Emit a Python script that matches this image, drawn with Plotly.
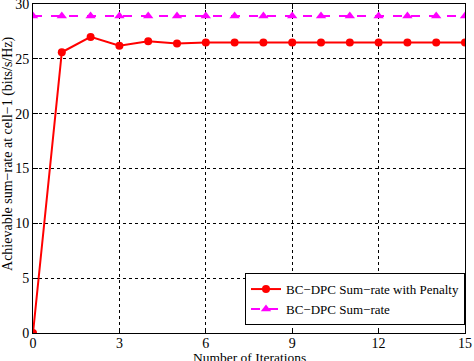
import plotly.graph_objects as go

iterations = list(range(16))
penalty_rate = [0, 25.6, 27.0, 26.2, 26.6, 26.4, 26.5, 26.5, 26.5, 26.5, 26.5, 26.5, 26.5, 26.5, 26.5, 26.5]
sum_rate = [28.9] * 16
x_ticks = [0, 3, 6, 9, 12, 15]
y_ticks = [0, 5, 10, 15, 20, 25, 30]

font = "Liberation Serif, Times New Roman, serif"

fig = go.Figure()
fig.add_trace(go.Scatter(
    x=iterations, y=penalty_rate, mode="lines+markers",
    name="BC\u2212DPC Sum\u2212rate with Penalty",
    line=dict(color="#ff0000", width=2),
    marker=dict(symbol="circle", size=8, color="#ff0000"),
))
fig.add_trace(go.Scatter(
    x=iterations, y=sum_rate, mode="lines+markers",
    name="BC\u2212DPC Sum\u2212rate",
    line=dict(color="#ff00ff", width=2, dash="dash"),
    marker=dict(symbol="triangle-up", size=9, color="#ff00ff"),
))

axis_common = dict(
    automargin=False,
    showline=True, linecolor="black", linewidth=1, mirror="ticks",
    ticks="inside", ticklen=5, tickcolor="black",
    showgrid=True, gridcolor="black", griddash="dot", gridwidth=1,
    zeroline=False, ticklabeloverflow="allow",
    tickfont=dict(family=font, size=14, color="black"),
)

fig.update_xaxes(range=[0, 15], tickvals=x_ticks, ticklabelstandoff=-3, **axis_common)
fig.update_yaxes(range=[0, 30], tickvals=y_ticks, **axis_common)

fig.add_annotation(text="Number of Iterations", xref="paper", yref="paper",
                   x=0.5, y=-0.075, xanchor="center", yanchor="middle",
                   showarrow=False, font=dict(family=font, size=13.5, color="black"))
fig.add_annotation(text="Achievable sum\u2212rate at cell\u22121 (bits/s/Hz)", xref="paper", yref="paper",
                   x=-0.058, y=0.547, xanchor="center", yanchor="middle", textangle=-90,
                   showarrow=False, font=dict(family=font, size=14, color="black"))

fig.update_layout(
    template="none",
    width=474, height=361,
    margin=dict(l=33, r=9, t=4, b=28),
    plot_bgcolor="white", paper_bgcolor="white",
    showlegend=True,
    legend=dict(
        x=1.0, y=0.024, xanchor="right", yanchor="bottom",
        bgcolor="white", bordercolor="black", borderwidth=1,
        font=dict(family=font, size=13, color="black"),
        tracegroupgap=0, itemwidth=30,
    ),
)

fig.write_html("out.html", config={"displayModeBar": False},
               post_script="document.body.style.margin='0px';document.body.style.overflow='hidden';")
